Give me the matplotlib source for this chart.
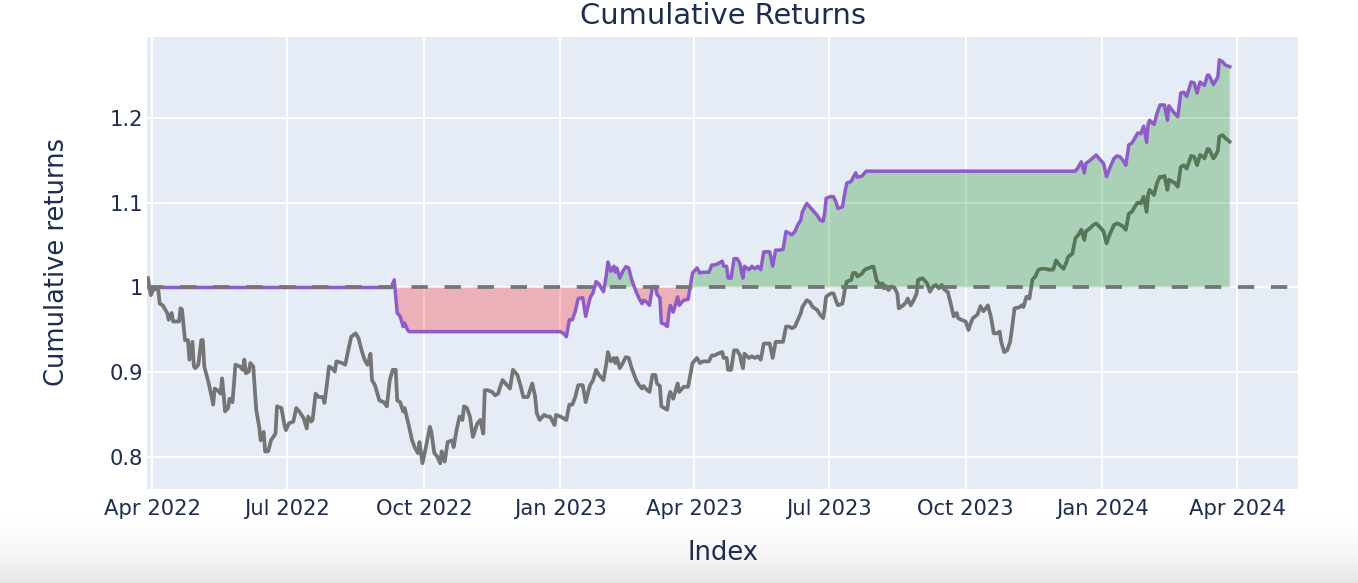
import numpy as np
import matplotlib
matplotlib.use("Agg")
import matplotlib.pyplot as plt
import matplotlib.dates as mdates

# ---------------- data ----------------
START_DATE = "2022-03-29"   # day 0 of the series

benchmark_day = [
    0, 2, 4, 7, 8, 10, 13, 14, 16, 17,
    21, 22, 23, 25, 27, 28, 30, 31, 32, 34,
    36, 37, 38, 41, 43, 44, 45, 47, 49, 50,
    51, 52, 54, 55, 57, 59, 62, 64, 65, 66,
    68, 69, 71, 73, 75, 76, 78, 79, 81, 83,
    86, 87, 90, 92, 93, 95, 98, 100, 102, 105,
    107, 108, 110, 111, 113, 115, 118, 119, 121, 122,
    124, 126, 127, 131, 133, 135, 137, 140, 142, 144,
    146, 148, 150, 151, 153, 155, 156, 159,
    161, 163, 165, 167, 168, 170, 172, 173, 176, 178,
    180, 182, 183, 185, 187, 190, 191, 193, 195, 197,
    198, 200, 202, 205, 206, 208, 210, 212, 213, 215,
    217, 219, 222, 224, 226, 227, 229, 232, 234, 236,
    237, 239, 241, 244, 246, 249, 251, 253, 256, 259,
    261, 262, 264, 267, 269, 271, 274, 275, 278, 280,
    282, 284, 286, 288, 290, 293, 295, 297, 298, 300,
    302, 304,
    307, 309, 310, 312, 314, 315, 316, 318, 320, 322,
    324, 326, 329, 331, 333, 334, 336, 338, 340, 342,
    343, 345, 346, 348, 350, 351, 352, 354, 355, 357,
    358, 360, 361, 364, 367, 369, 370, 372, 374, 378,
    380, 382, 384, 387, 388, 390, 391, 393, 395, 397,
    399, 400, 401, 402, 405, 407, 409, 411, 413, 415,
    417, 419, 421, 423, 426, 428, 430, 432, 434, 436,
    438, 440, 441, 444, 446, 448, 451, 453, 455, 456,
    457, 460, 462, 464, 465, 468, 470, 471, 474, 475,
    477, 478, 481, 483, 486, 488, 489, 491, 493, 495,
    496, 497, 499, 501, 503, 505, 506, 509, 511, 512,
    514, 516, 518, 519, 522, 524, 525, 527, 529, 531,
    533, 535, 537, 539, 541, 543, 545, 546, 548, 551,
    553, 554, 556, 559, 561, 563, 564, 566, 568, 570,
    572, 574, 575, 577, 579, 581, 582, 584, 587, 589,
    590, 592, 593, 594, 596, 598, 600, 602, 605, 607,
    610, 612, 614, 617, 619, 620, 623, 625, 627, 629,
    631, 632, 635, 637, 639, 641, 644, 646, 648, 651,
    653, 655, 657, 659, 661, 663, 665, 667, 669, 671,
    673, 674, 675, 678, 680, 682, 684, 685, 687, 688,
    690, 692, 694, 696, 698, 700, 702, 703, 705, 707,
    709, 711, 712, 714, 715, 718, 719, 721, 722, 724,
    726, 729,
]
benchmark_cum = [
    1.011, 0.991, 0.999, 0.997, 0.981, 0.979, 0.970, 0.962, 0.970, 0.960,
    0.960, 0.9755, 0.974, 0.938, 0.938, 0.915, 0.936, 0.907, 0.905, 0.909,
    0.938, 0.938, 0.907, 0.887, 0.871, 0.862, 0.881, 0.879, 0.875, 0.893,
    0.875, 0.854, 0.858, 0.869, 0.865, 0.909, 0.907, 0.903, 0.915, 0.899,
    0.901, 0.911, 0.907, 0.856, 0.836, 0.820, 0.830, 0.807, 0.807, 0.820,
    0.828, 0.860, 0.858, 0.838, 0.832, 0.840, 0.842, 0.858, 0.854, 0.846,
    0.834, 0.848, 0.842, 0.844, 0.875, 0.871, 0.871, 0.864, 0.891, 0.907,
    0.905, 0.901, 0.913, 0.911, 0.909, 0.926, 0.942, 0.946, 0.940, 0.926,
    0.915, 0.909, 0.922, 0.891, 0.885, 0.873, 0.867, 0.865,
    0.860, 0.891, 0.903, 0.903, 0.867, 0.865, 0.854, 0.858, 0.836, 0.820,
    0.811, 0.805, 0.818, 0.793, 0.809, 0.836, 0.830, 0.805, 0.801, 0.793,
    0.807, 0.795, 0.818, 0.820, 0.812, 0.832, 0.848, 0.844, 0.860, 0.858,
    0.848, 0.824, 0.840, 0.844, 0.828, 0.879, 0.879, 0.877, 0.873, 0.875,
    0.881, 0.891, 0.887, 0.881, 0.903, 0.897, 0.885, 0.871, 0.871, 0.887,
    0.871, 0.852, 0.844, 0.850, 0.848, 0.848, 0.838, 0.850, 0.848, 0.846,
    0.844, 0.862, 0.862, 0.871, 0.885, 0.885, 0.865, 0.879, 0.885, 0.891,
    0.903, 0.897,
    0.891, 0.911, 0.924, 0.913, 0.917, 0.911, 0.917, 0.905, 0.911, 0.918,
    0.917, 0.905, 0.891, 0.885, 0.881, 0.884, 0.880, 0.877, 0.897, 0.897,
    0.887, 0.884, 0.860, 0.858, 0.856, 0.871, 0.877, 0.869, 0.875, 0.887,
    0.877, 0.881, 0.883, 0.883, 0.911, 0.915, 0.917, 0.911, 0.913, 0.913,
    0.920, 0.920, 0.922, 0.924, 0.917, 0.917, 0.903, 0.903, 0.926, 0.926,
    0.920, 0.911, 0.905, 0.922, 0.917, 0.919, 0.917, 0.919, 0.915, 0.934,
    0.934, 0.934, 0.917, 0.936, 0.936, 0.936, 0.954, 0.954, 0.952, 0.954,
    0.962, 0.970, 0.977, 0.985, 0.983, 0.977, 0.9735, 0.968, 0.964, 0.974,
    0.989, 0.993, 0.993, 0.983, 0.979, 0.981, 1.001, 1.007, 1.009, 1.017,
    1.017, 1.013, 1.016, 1.021, 1.023, 1.0245, 1.0245, 1.009, 1.003, 1.005,
    0.999, 1.002, 0.997, 1.001, 1.000, 0.993, 0.9755, 0.979, 0.983, 0.987,
    0.979, 0.985, 0.993, 1.009, 1.011, 1.007, 1.005, 0.995, 1.001, 1.003,
    0.999, 1.003, 0.997, 0.995, 0.981, 0.966, 0.970, 0.964, 0.962, 0.960,
    0.950, 0.956, 0.964, 0.968, 0.978, 0.972, 0.974, 0.979, 0.966, 0.946,
    0.946, 0.948, 0.936, 0.924, 0.926, 0.936, 0.948, 0.9755, 0.9765, 0.979,
    0.977, 0.989, 0.989, 0.987, 1.009, 1.013, 1.0206, 1.022, 1.022, 1.021,
    1.021, 1.032, 1.027, 1.022, 1.030, 1.036, 1.040, 1.058, 1.062, 1.068,
    1.056, 1.066, 1.070, 1.0736, 1.0755, 1.072, 1.066, 1.052, 1.062, 1.0736,
    1.0755, 1.074, 1.072, 1.068, 1.087, 1.089, 1.095, 1.100, 1.099, 1.107,
    1.089, 1.109, 1.115, 1.109, 1.123, 1.1305, 1.130, 1.1315, 1.115, 1.127,
    1.125, 1.123, 1.1187, 1.142, 1.144, 1.140, 1.150, 1.155, 1.154, 1.144,
    1.156, 1.154, 1.152, 1.163, 1.163, 1.152, 1.154, 1.161, 1.1776, 1.1796,
    1.176, 1.1717,
]

strategy_day = [
    0, 164, 166, 168, 170, 172, 173, 175, 176, 278,
    280, 282, 284, 286, 288, 290, 293, 295, 297, 298,
    300, 302, 304, 307, 309, 310, 312, 314, 315, 316,
    318, 320, 322, 324, 326, 329, 331, 333, 334, 336,
    338, 340, 342, 343, 345, 346, 348, 350, 351, 352,
    354, 355, 357, 358, 360, 361, 364, 367, 369, 370,
    372, 374, 378, 380, 382, 384, 387, 388, 390, 391,
    393, 395, 397, 399, 400, 401, 402, 405, 407, 409,
    411, 413, 415, 417, 419, 421, 423, 426, 428, 430,
    432, 434, 436, 438, 440, 441, 444, 446, 448, 451,
    453, 455, 456, 457, 460, 462, 464, 465, 468, 470,
    471, 474, 475, 477, 478, 481, 484, 625, 627, 629,
    631, 632, 635, 637, 639, 641, 644, 646, 648, 651,
    653, 655, 657, 659, 661, 663, 665, 667, 669, 671,
    673, 674, 675, 678, 680, 682, 684, 685, 687, 688,
    690, 692, 694, 696, 698, 700, 702, 703, 705, 707,
    709, 711, 712, 714, 715, 718, 719, 721, 722, 724,
    726, 729,
]
strategy_cum = [
    1.0, 1.0, 1.009, 0.970, 0.966, 0.954, 0.958, 0.950, 0.948, 0.948,
    0.946, 0.942, 0.962, 0.962, 0.972, 0.987, 0.988, 0.966, 0.981, 0.988,
    0.994, 1.007, 1.004, 0.995, 1.015, 1.030, 1.019, 1.025, 1.018, 1.023,
    1.011, 1.019, 1.0245, 1.023, 1.009, 0.995, 0.987, 0.981, 0.985, 0.983,
    0.979, 1.001, 1.001, 0.992, 0.988, 0.958, 0.957, 0.954, 0.969, 0.979,
    0.971, 0.977, 0.989, 0.979, 0.983, 0.985, 0.986, 1.017, 1.021, 1.023,
    1.017, 1.018, 1.018, 1.0265, 1.0265, 1.028, 1.031, 1.025, 1.025, 1.011,
    1.011, 1.034, 1.034, 1.028, 1.018, 1.011, 1.025, 1.021, 1.025, 1.022,
    1.025, 1.021, 1.042, 1.042, 1.042, 1.025, 1.044, 1.044, 1.045, 1.066,
    1.064, 1.062, 1.066, 1.074, 1.0795, 1.089, 1.099, 1.095, 1.091, 1.085,
    1.0795, 1.078, 1.087, 1.105, 1.107, 1.107, 1.099, 1.093, 1.095, 1.115,
    1.123, 1.125, 1.129, 1.135, 1.130, 1.131, 1.137, 1.137, 1.142, 1.148,
    1.135, 1.146, 1.150, 1.153, 1.156, 1.152, 1.146, 1.1305, 1.140, 1.152,
    1.155, 1.154, 1.150, 1.144, 1.168, 1.170, 1.1757, 1.182, 1.181, 1.190,
    1.171, 1.192, 1.197, 1.192, 1.205, 1.215, 1.215, 1.215, 1.197, 1.214,
    1.209, 1.205, 1.201, 1.229, 1.230, 1.225, 1.2365, 1.242, 1.241, 1.229,
    1.242, 1.239, 1.238, 1.250, 1.250, 1.239, 1.242, 1.248, 1.268, 1.266,
    1.262, 1.260,
]

BASELINE = 1.0
y_ticks = [0.8, 0.9, 1.0, 1.1, 1.2]
y_tick_labels = ["0.8", "0.9", "1", "1.1", "1.2"]
TITLE = "Cumulative Returns"
X_LABEL = "Index"
Y_LABEL = "Cumulative returns"

# ---------------- figure ----------------
W, H = 1358, 583
fig = plt.figure(figsize=(W / 100, H / 100), dpi=100)
fig.patch.set_facecolor("white")

# faint screenshot shading at the bottom (white above, light grey at the edge)
bg = fig.add_axes([0, 0, 1, 70 / H], zorder=-10)
grad = np.linspace(0, 1, 100) ** 1.8
img = np.ones((100, 2, 3)) - grad[:, None, None] * (1 - 0.905)
bg.imshow(img, aspect="auto", extent=[0, 1, 0, 1], origin="upper")
bg.set_axis_off()

L, R, T, B = 147, 1298, 37, 489
ax = fig.add_axes([L / W, 1 - B / H, (R - L) / W, (B - T) / H])
ax.set_facecolor("#E5ECF6")
for s in ax.spines.values():
    s.set_visible(False)

base = np.datetime64(START_DATE)
bx = base + np.array(benchmark_day).astype("timedelta64[D]")
sx = base + np.array(strategy_day).astype("timedelta64[D]")
bv = np.array(benchmark_cum)
sv = np.array(strategy_cum)

grey = "#757575"
purple = "#8f5bc9"

ax.plot(bx, bv, color=grey, lw=2.7, zorder=3)
ax.fill_between(sx, sv, BASELINE, where=sv >= BASELINE, interpolate=True,
                color=(0.0, 0.5, 0.0), alpha=0.25, lw=0, zorder=4)
ax.fill_between(sx, sv, BASELINE, where=sv <= BASELINE, interpolate=True,
                color=(1.0, 0.0, 0.0), alpha=0.25, lw=0, zorder=4)
ax.plot(sx, sv, color=purple, lw=2.5, zorder=5)
dash_lw = 2.7
hl = ax.axhline(BASELINE, color=grey, lw=dash_lw, zorder=6)
hl.set_dashes([11.8 / dash_lw, 12.0 / dash_lw])

x0 = mdates.date2num(base)
ax.set_xlim(x0 - 0.6, x0 + 775)
ax.set_ylim(0.7627, 1.295)

ax.xaxis.set_major_locator(mdates.MonthLocator(bymonth=[1, 4, 7, 10]))
ax.xaxis.set_major_formatter(mdates.DateFormatter("%b %Y"))
ax.set_yticks(y_ticks)
ax.set_yticklabels(y_tick_labels)

txt = "#1e2d4f"
ax.tick_params(axis="both", length=0, labelsize=15.2, labelcolor=txt)
ax.tick_params(axis="x", pad=7)
ax.tick_params(axis="y", pad=3)
ax.grid(True, color="white", lw=1.4, zorder=1)
ax.set_axisbelow(True)

fig.text((L + R) / 2 / W, 1 - 16 / H, TITLE, ha="center", va="center",
         fontsize=20.8, color=txt)
fig.text((L + R) / 2 / W, 1 - 553 / H, X_LABEL, ha="center", va="center",
         fontsize=18.5, color=txt)
fig.text(57 / W, 1 - 262 / H, Y_LABEL, ha="center", va="center",
         rotation=90, fontsize=18.5, color=txt)

fig.savefig("out.png", dpi=100)
